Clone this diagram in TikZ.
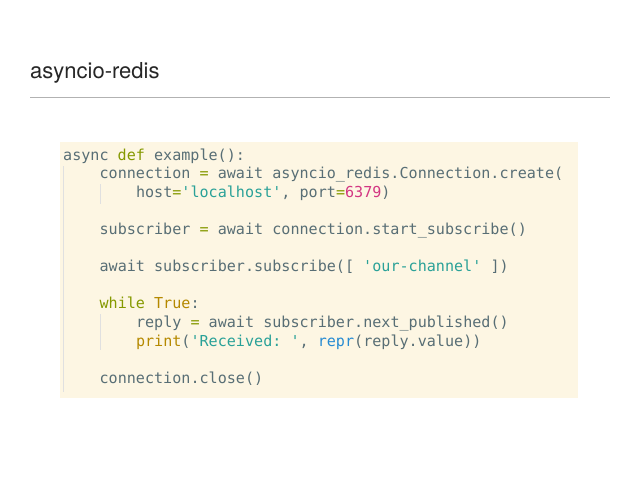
\documentclass[tikz,border=0pt]{standalone}
\usepackage{fontspec}
\setmonofont{DejaVu Sans Mono}
\newfontfamily\titlefont{TeX Gyre Heros}
\definecolor{bgc}{HTML}{FDF6E3}
\definecolor{txt}{HTML}{586E75}
\definecolor{kw}{HTML}{859900}
\definecolor{str}{HTML}{2AA198}
\definecolor{num}{HTML}{D33682}
\definecolor{cst}{HTML}{B58900}
\definecolor{fn}{HTML}{268BD2}
\newcommand{\K}[1]{\textcolor{kw}{#1}}
\newcommand{\St}[1]{\textcolor{str}{#1}}
\begin{document}
\begin{tikzpicture}[x=1pt,y=-1pt,
  codeline/.style={anchor=base west,inner sep=0pt,font=\fontsize{15.1}{18}\ttfamily,text=txt},
  guide/.style={draw=black!12,line width=0.6pt}]
\useasboundingbox (0,0) rectangle (638,479);
\node[anchor=base west,inner sep=0pt,font=\fontsize{22}{26}\titlefont,text=black!85] (title) at (30,78) {asyncio-redis};
\coordinate (r1) at (30,97); \coordinate (r2) at (610,97);
\draw[black!30,line width=0.8pt] (r1) -- (r2);
\fill[bgc] (60,142) rectangle (578,398);
\draw[guide] (63,166) -- (63,392);
\draw[guide] (100,184) -- (100,204);
\draw[guide] (100,314) -- (100,350);
\node[codeline] (l1) at (63,160) {async \K{def} example():};
\node[codeline] (l2) at (99.4,178.6) {connection \K{=} await asyncio\_redis.Connection.create(};
\node[codeline] (l3) at (135.8,197.2) {host\K{=}\St{'localhost'}, port\K{=}\textcolor{num}{6379})};
\node[codeline] (l4) at (99.4,234.4) {subscriber \K{=} await connection.start\_subscribe()};
\node[codeline] (l5) at (99.4,271.6) {await subscriber.subscribe([ \St{'our-channel'} ])};
\node[codeline] (l6) at (99.4,308.8) {\K{while} \textcolor{cst}{True}:};
\node[codeline] (l7) at (135.8,327.4) {reply \K{=} await subscriber.next\_published()};
\node[codeline] (l8) at (135.8,346) {\textcolor{cst}{print}(\St{'Received: '}, \textcolor{fn}{repr}(reply.value))};
\node[codeline] (l9) at (99.4,383.2) {connection.close()};
\end{tikzpicture}
\end{document}
